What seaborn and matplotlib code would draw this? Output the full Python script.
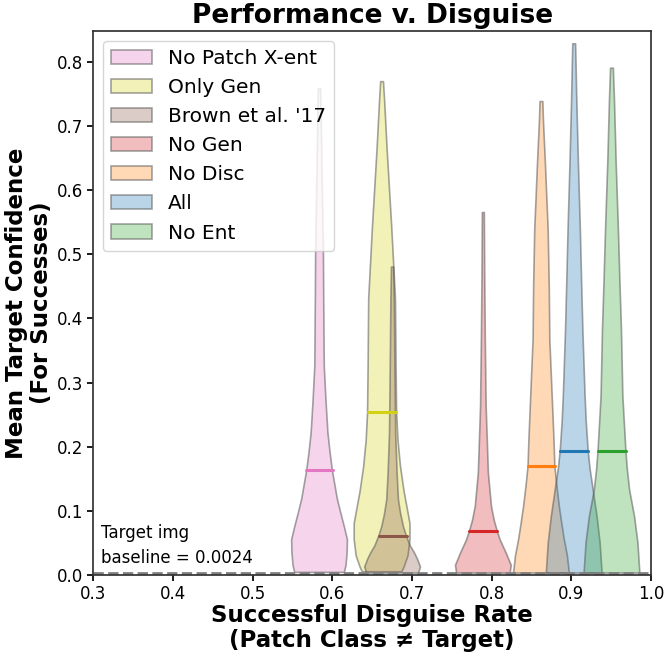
import matplotlib
matplotlib.use("Agg")
import matplotlib.pyplot as plt
from matplotlib.patches import Patch
import seaborn as sns

# legend order = drawing order
labels = ["No Patch X-ent", "Only Gen", "Brown et al. '17", "No Gen", "No Disc", "All", "No Ent"]
colors = ["#e377c2", "#d2d214", "#8c564b", "#d62728", "#ff7f0e", "#1f77b4", "#2ca02c"]

# x position of each violin = disguise rate, and the mean confidence
disguise_rate = [0.584, 0.6625, 0.6757, 0.7896, 0.8625, 0.9036, 0.951]
mean_conf = [0.163, 0.254, 0.060, 0.068, 0.170, 0.194, 0.193]

# violin outlines: confidence level and relative density
pink_y = [0.004, 0.015, 0.035, 0.055, 0.075, 0.097, 0.118, 0.138, 0.163, 0.19, 0.222, 0.273, 0.325, 0.43, 0.5, 0.633, 0.737, 0.758]
pink_d = [0.89, 0.95, 0.99, 1.0, 0.89, 0.76, 0.64, 0.56, 0.46, 0.38, 0.30, 0.23, 0.17, 0.15, 0.14, 0.09, 0.05, 0.04]
yellow_y = [0.005, 0.0125, 0.03, 0.055, 0.08, 0.097, 0.13, 0.169, 0.21, 0.254, 0.33, 0.43, 0.539, 0.664, 0.74, 0.769]
yellow_d = [0.71, 0.79, 0.93, 1.0, 1.0, 0.93, 0.79, 0.66, 0.57, 0.52, 0.50, 0.48, 0.35, 0.18, 0.09, 0.05]
brown_y = [0.003, 0.0125, 0.025, 0.034, 0.045, 0.06, 0.075, 0.095, 0.117, 0.16, 0.222, 0.3, 0.43, 0.48]
brown_d = [0.93, 1.0, 0.89, 0.79, 0.64, 0.5, 0.39, 0.29, 0.21, 0.16, 0.11, 0.09, 0.06, 0.04]
red_y = [0.003, 0.015, 0.034, 0.055, 0.068, 0.085, 0.107, 0.159, 0.263, 0.367, 0.46, 0.565]
red_d = [0.96, 1.0, 0.82, 0.6, 0.5, 0.39, 0.29, 0.18, 0.1, 0.07, 0.05, 0.035]
orange_y = [0.003, 0.03, 0.055, 0.08, 0.107, 0.14, 0.17, 0.21, 0.263, 0.367, 0.45, 0.539, 0.643, 0.71, 0.738]
orange_d = [1.0, 0.93, 0.82, 0.73, 0.64, 0.55, 0.48, 0.45, 0.4, 0.3, 0.28, 0.24, 0.14, 0.07, 0.05]
blue_y = [0.003, 0.05, 0.091, 0.133, 0.165, 0.194, 0.24, 0.279, 0.383, 0.45, 0.539, 0.643, 0.747, 0.8, 0.828]
blue_d = [1.0, 0.93, 0.82, 0.68, 0.57, 0.5, 0.43, 0.39, 0.31, 0.27, 0.22, 0.15, 0.09, 0.065, 0.05]
green_y = [0.003, 0.05, 0.091, 0.133, 0.165, 0.193, 0.279, 0.383, 0.45, 0.539, 0.643, 0.74, 0.79]
green_d = [1.0, 0.93, 0.81, 0.63, 0.55, 0.5, 0.39, 0.34, 0.29, 0.23, 0.15, 0.09, 0.05]

profiles = [(pink_y, pink_d), (yellow_y, yellow_d), (brown_y, brown_d), (red_y, red_d),
            (orange_y, orange_d), (blue_y, blue_d), (green_y, green_d)]

baseline = 0.0024
half_width = 0.035  # violin widths = 0.07

sns.set_theme(style="ticks")
plt.rcParams['font.family'] = ['DejaVu Sans']
plt.rcParams['text.color'] = 'black'
plt.rcParams['axes.labelcolor'] = 'black'

fig, ax = plt.subplots(figsize=(6.66, 6.59), dpi=100)
fig.subplots_adjust(left=0.14, right=0.9775, bottom=0.1275, top=0.953)

edge = (0.35, 0.35, 0.35, 0.55)
handles = []
for (ys, ds), pos, m, c, lab in zip(profiles, disguise_rate, mean_conf, colors, labels):
    left = [pos - half_width * d for d in ds]
    right = [pos + half_width * d for d in ds]
    ax.fill_betweenx(ys, left, right, facecolor=c, alpha=0.3, edgecolor='none')
    ax.fill_betweenx(ys, left, right, facecolor='none', edgecolor=edge, linewidth=1.2)
    ax.plot([pos - half_width / 2, pos + half_width / 2], [m, m], color=c, linewidth=2.2)
    handles.append(Patch(facecolor=matplotlib.colors.to_rgba(c, 0.3), edgecolor=edge, linewidth=1.2, label=lab))

ax.axhline(baseline, color='grey', linestyle='--', linewidth=2)
ax.text(0.3096, 0.013, "Target img\nbaseline = 0.0024", fontsize=12, va='bottom', ha='left',
        linespacing=1.5)

ax.set_xlim(0.3, 1.0)
ax.set_ylim(0, 0.848)
ax.set_xticks([0.3, 0.4, 0.5, 0.6, 0.7, 0.8, 0.9, 1.0])
ax.set_yticks([0.0, 0.1, 0.2, 0.3, 0.4, 0.5, 0.6, 0.7, 0.8])
ax.tick_params(labelsize=12, colors='black', length=4, pad=3)
for s in ax.spines.values():
    s.set_color('#333333')

ax.set_title("Performance v. Disguise", fontsize=19, fontweight='bold')
ax.set_xlabel("Successful Disguise Rate\n(Patch Class \u2260 Target)", fontsize=16.5, fontweight='bold',
              linespacing=1.12, labelpad=1)
ax.set_ylabel("Mean Target Confidence\n(For Successes)", fontsize=16.5, fontweight='bold',
              linespacing=1.12, labelpad=3)

ax.legend(handles=handles, loc='upper left', fontsize=14.5, frameon=True, framealpha=0.8)

fig.savefig("out.png", dpi=100)
